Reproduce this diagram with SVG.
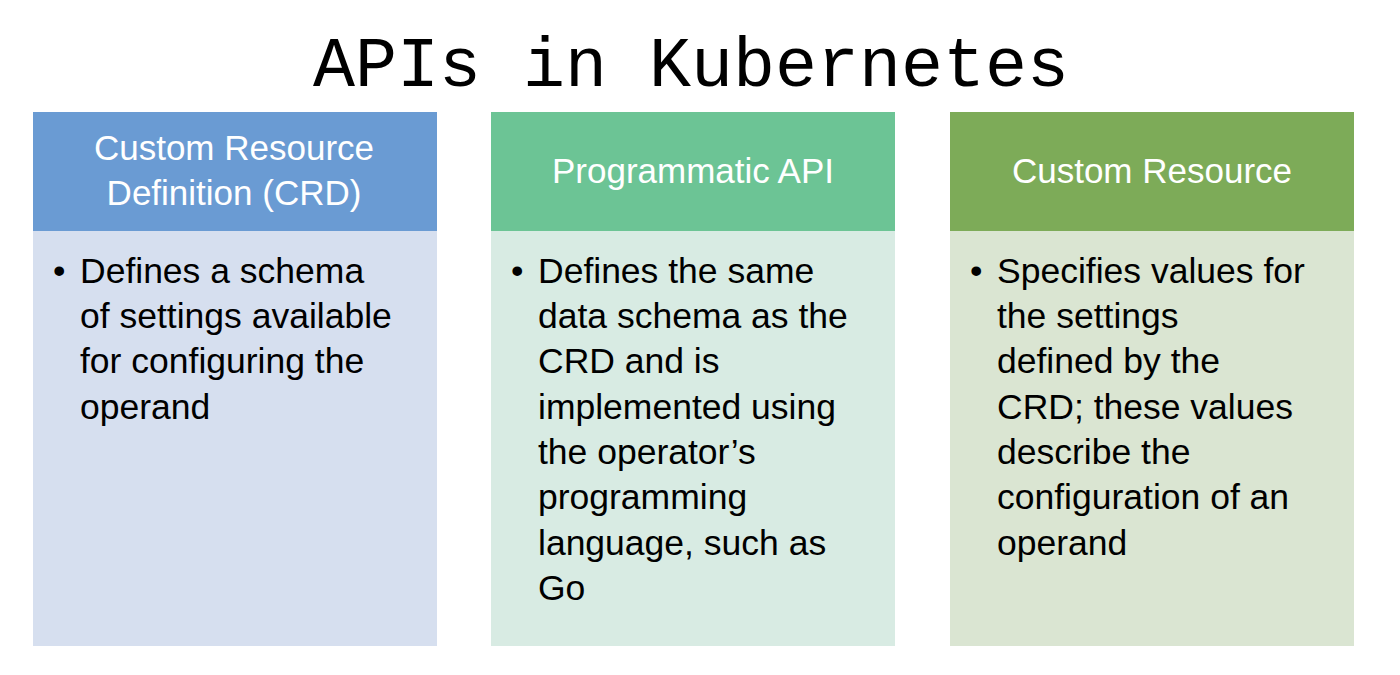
<svg xmlns="http://www.w3.org/2000/svg" width="1400" height="675" viewBox="0 0 1400 675">
<style>
.t{font-family:"Liberation Mono",monospace;font-size:70px;fill:#000}
.h{font-family:"Liberation Sans",Arial,sans-serif;font-size:35px;fill:#fff;text-anchor:middle}
.b{font-family:"Liberation Sans",Arial,sans-serif;font-size:35.5px;fill:#000}
</style>
<rect width="1400" height="675" fill="#fff"/>
<text class="t" x="691" y="86" text-anchor="middle">APIs in Kubernetes</text>
<g id="crd">
<rect x="33" y="112" width="404" height="119" fill="#6A9BD3"/>
<rect x="33" y="231" width="404" height="415" fill="#D6DFEF"/>
<text class="h" x="234" y="160">Custom Resource</text>
<text class="h" x="234" y="205">Definition (CRD)</text>
<text class="b" x="53" y="283">•</text>
<text class="b"><tspan x="80" y="283">Defines a schema</tspan><tspan x="80" y="328">of settings available</tspan><tspan x="80" y="373">for configuring the</tspan><tspan x="80" y="419">operand</tspan></text>
</g>
<g id="api">
<rect x="491" y="112" width="404" height="119" fill="#6CC495"/>
<rect x="491" y="231" width="404" height="415" fill="#D8EBE3"/>
<text class="h" x="693" y="183">Programmatic API</text>
<text class="b" x="511" y="283">•</text>
<text class="b"><tspan x="538" y="283">Defines the same</tspan><tspan x="538" y="328">data schema as the</tspan><tspan x="538" y="373">CRD and is</tspan><tspan x="538" y="419">implemented using</tspan><tspan x="538" y="464">the operator’s</tspan><tspan x="538" y="509">programming</tspan><tspan x="538" y="555">language, such as</tspan><tspan x="538" y="600">Go</tspan></text>
</g>
<g id="cr">
<rect x="950" y="112" width="404" height="119" fill="#7DAB58"/>
<rect x="950" y="231" width="404" height="415" fill="#DAE5D2"/>
<text class="h" x="1152" y="183">Custom Resource</text>
<text class="b" x="970" y="283">•</text>
<text class="b"><tspan x="997" y="283">Specifies values for</tspan><tspan x="997" y="328">the settings</tspan><tspan x="997" y="373">defined by the</tspan><tspan x="997" y="419">CRD; these values</tspan><tspan x="997" y="464">describe the</tspan><tspan x="997" y="509">configuration of an</tspan><tspan x="997" y="555">operand</tspan></text>
</g>
<g id="connectors"/>
</svg>
